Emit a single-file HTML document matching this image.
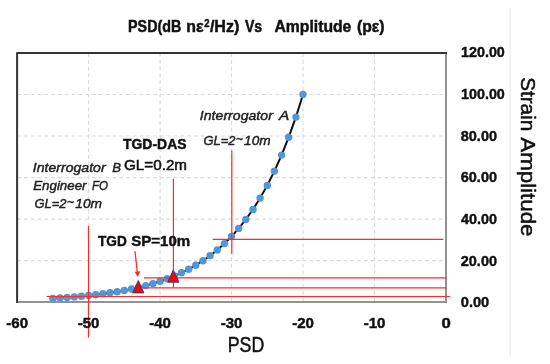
<!DOCTYPE html>
<html><head><meta charset="utf-8"><title>PSD Vs Amplitude</title>
<style>
html,body{margin:0;padding:0;background:#fff;}
body{width:550px;height:364px;overflow:hidden;}
svg{display:block;}
text{font-family:"Liberation Sans",sans-serif;fill:#111;}
.b{font-weight:bold;stroke:#111;stroke-width:0.45px;}
.i{font-style:italic;fill:#222;stroke:#222;stroke-width:0.45px;}
.r{stroke:#111;stroke-width:0.5px;}
</style></head><body>
<svg width="550" height="364" viewBox="0 0 550 364">
<rect width="550" height="364" fill="#fff"/>
<line x1="510.2" y1="8" x2="510.2" y2="356.5" stroke="#efefef" stroke-width="1.6"/>

<g stroke="#dcdcdc" stroke-width="1.2" stroke-dasharray="3.9 2.9" fill="none">
<line x1="88.6" y1="53.0" x2="88.6" y2="302.1"/>
<line x1="160.1" y1="53.0" x2="160.1" y2="302.1"/>
<line x1="231.5" y1="53.0" x2="231.5" y2="302.1"/>
<line x1="303.0" y1="53.0" x2="303.0" y2="302.1"/>
<line x1="374.5" y1="53.0" x2="374.5" y2="302.1"/>
<line x1="17.1" y1="260.6" x2="446.0" y2="260.6"/>
<line x1="17.1" y1="219.1" x2="446.0" y2="219.1"/>
<line x1="17.1" y1="177.6" x2="446.0" y2="177.6"/>
<line x1="17.1" y1="136.0" x2="446.0" y2="136.0"/>
<line x1="17.1" y1="94.5" x2="446.0" y2="94.5"/>
</g>
<path d="M446.0 53.0 V302.1 H17.1" stroke="#939393" stroke-width="2" fill="none" stroke-linejoin="miter"/>
<path d="M17.1 303.1 V53.0 H447.0" stroke="#333" stroke-width="2" fill="none" stroke-linejoin="round"/>
<path d="M52.8 298.4 L60.0 298.0 L67.1 297.5 L74.3 296.9 L81.4 296.2 L88.6 295.5 L95.7 294.7 L102.9 293.8 L110.0 292.8 L117.2 291.7 L124.3 290.4 L131.5 289.0 L138.6 287.4 L145.8 285.6 L152.9 283.6 L160.1 281.3 L167.2 278.8 L174.4 276.0 L181.5 272.8 L188.7 269.2 L195.8 265.2 L203.0 260.7 L210.1 255.6 L217.3 250.0 L224.4 243.6 L231.5 236.5 L238.7 228.4 L245.8 219.5 L253.0 209.4 L260.1 198.1 L267.3 185.4 L274.4 171.1 L281.6 155.1 L288.7 137.2 L295.9 117.1 L303.0 94.5" stroke="#111" stroke-width="2" fill="none"/>
<g fill="#5296d8">
<circle cx="52.8" cy="298.4" r="3.7"/>
<circle cx="60.0" cy="298.0" r="3.7"/>
<circle cx="67.1" cy="297.5" r="3.7"/>
<circle cx="74.3" cy="296.9" r="3.7"/>
<circle cx="81.4" cy="296.2" r="3.7"/>
<circle cx="88.6" cy="295.5" r="3.7"/>
<circle cx="95.7" cy="294.7" r="3.7"/>
<circle cx="102.9" cy="293.8" r="3.7"/>
<circle cx="110.0" cy="292.8" r="3.7"/>
<circle cx="117.2" cy="291.7" r="3.7"/>
<circle cx="124.3" cy="290.4" r="3.7"/>
<circle cx="131.5" cy="289.0" r="3.7"/>
<circle cx="138.6" cy="287.4" r="3.7"/>
<circle cx="145.8" cy="285.6" r="3.7"/>
<circle cx="152.9" cy="283.6" r="3.7"/>
<circle cx="160.1" cy="281.3" r="3.7"/>
<circle cx="167.2" cy="278.8" r="3.7"/>
<circle cx="174.4" cy="276.0" r="3.7"/>
<circle cx="181.5" cy="272.8" r="3.7"/>
<circle cx="188.7" cy="269.2" r="3.7"/>
<circle cx="195.8" cy="265.2" r="3.7"/>
<circle cx="203.0" cy="260.7" r="3.7"/>
<circle cx="210.1" cy="255.6" r="3.7"/>
<circle cx="217.3" cy="250.0" r="3.7"/>
<circle cx="224.4" cy="243.6" r="3.7"/>
<circle cx="231.5" cy="236.5" r="3.7"/>
<circle cx="238.7" cy="228.4" r="3.7"/>
<circle cx="245.8" cy="219.5" r="3.7"/>
<circle cx="253.0" cy="209.4" r="3.7"/>
<circle cx="260.1" cy="198.1" r="3.7"/>
<circle cx="267.3" cy="185.4" r="3.7"/>
<circle cx="274.4" cy="171.1" r="3.7"/>
<circle cx="281.6" cy="155.1" r="3.7"/>
<circle cx="288.7" cy="137.2" r="3.7"/>
<circle cx="295.9" cy="117.1" r="3.7"/>
<circle cx="303.0" cy="94.5" r="3.7"/>
</g>
<g stroke="#ff2a2a" stroke-width="1.2" fill="none">
<line x1="88.5" y1="226" x2="88.5" y2="337.7"/>
<line x1="173.4" y1="178.8" x2="173.4" y2="288"/>
<line x1="231.8" y1="150.5" x2="231.8" y2="254"/>
<line x1="212.7" y1="239.4" x2="443.3" y2="239.4"/>
<line x1="144" y1="277.9" x2="446.6" y2="277.9"/>
<line x1="142.4" y1="287.8" x2="446.6" y2="287.8"/>
<line x1="46.5" y1="296.5" x2="450.2" y2="296.5"/>
</g>
<path d="M138.3 280.5 L143.9 292.9 L132.70000000000002 292.9 Z" fill="#ff0000" stroke="#2f3f8f" stroke-width="1"/>
<path d="M173.3 270.0 L178.9 282.2 L167.70000000000002 282.2 Z" fill="#ff0000" stroke="#2f3f8f" stroke-width="1"/>
<line x1="135" y1="251.2" x2="137.3" y2="272.5" stroke="#ff2a2a" stroke-width="1.3"/>
<path d="M137.7 277 L134.6 271.8 L140.3 271.2 Z" fill="#ff2a2a"/>
<text x="128.05" y="31.5" font-size="15.7" textLength="53.27" lengthAdjust="spacingAndGlyphs" class="b">PSD(dB</text>
<text x="186.25" y="31.5" font-size="15.7" textLength="17.29" lengthAdjust="spacingAndGlyphs" class="b">nε</text>
<text x="204.3" y="27.2" font-size="11.0" textLength="5.26" lengthAdjust="spacingAndGlyphs" class="b">2</text>
<text x="209.9" y="31.5" font-size="15.7" textLength="29.51" lengthAdjust="spacingAndGlyphs" class="b">/Hz)</text>
<text x="244.95" y="31.5" font-size="15.7" textLength="17.25" lengthAdjust="spacingAndGlyphs" class="b">Vs</text>
<text x="274.4" y="31.5" font-size="15.7" textLength="77.0" lengthAdjust="spacingAndGlyphs" class="b">Amplitude</text>
<text x="357.0" y="31.5" font-size="15.7" textLength="27.54" lengthAdjust="spacingAndGlyphs" class="b">(pε)</text>
<text x="460.75" y="307.2" font-size="14.7" textLength="28.51" lengthAdjust="spacingAndGlyphs" class="b">0.00</text>
<text x="460.75" y="265.6" font-size="14.7" textLength="36.26" lengthAdjust="spacingAndGlyphs" class="b">20.00</text>
<text x="461.0" y="223.9" font-size="14.7" textLength="36.0" lengthAdjust="spacingAndGlyphs" class="b">40.00</text>
<text x="460.75" y="182.2" font-size="14.7" textLength="36.26" lengthAdjust="spacingAndGlyphs" class="b">60.00</text>
<text x="460.75" y="140.6" font-size="14.7" textLength="36.26" lengthAdjust="spacingAndGlyphs" class="b">80.00</text>
<text x="461.05" y="98.9" font-size="14.7" textLength="43.78" lengthAdjust="spacingAndGlyphs" class="b">100.00</text>
<text x="461.05" y="57.3" font-size="14.7" textLength="43.78" lengthAdjust="spacingAndGlyphs" class="b">120.00</text>
<text x="6.25" y="327.7" font-size="14.4" textLength="21.77" lengthAdjust="spacingAndGlyphs" class="b">-60</text>
<text x="77.73" y="327.7" font-size="14.4" textLength="21.77" lengthAdjust="spacingAndGlyphs" class="b">-50</text>
<text x="149.22" y="327.7" font-size="14.4" textLength="21.77" lengthAdjust="spacingAndGlyphs" class="b">-40</text>
<text x="220.7" y="327.7" font-size="14.4" textLength="21.77" lengthAdjust="spacingAndGlyphs" class="b">-30</text>
<text x="292.18" y="327.7" font-size="14.4" textLength="21.77" lengthAdjust="spacingAndGlyphs" class="b">-20</text>
<text x="363.67" y="327.7" font-size="14.4" textLength="21.77" lengthAdjust="spacingAndGlyphs" class="b">-10</text>
<text x="441.5" y="327.7" font-size="14.4" textLength="9.32" lengthAdjust="spacingAndGlyphs" class="b">0</text>
<text x="227.75" y="352.4" font-size="21.4" textLength="36.59" lengthAdjust="spacingAndGlyphs" class="r">PSD</text>
<text x="123.0" y="148.9" font-size="14.6" textLength="63.5" lengthAdjust="spacingAndGlyphs" class="b">TGD-DAS</text>
<text x="124.0" y="170.0" font-size="14.6" textLength="63.03" lengthAdjust="spacingAndGlyphs" class="r">GL=0.2m</text>
<text x="98.0" y="245.6" font-size="14.6" textLength="28.76" lengthAdjust="spacingAndGlyphs" class="b">TGD</text>
<text x="131.15" y="245.6" font-size="14.6" textLength="59.02" lengthAdjust="spacingAndGlyphs" class="b">SP=10m</text>
<text x="32.85" y="171.9" font-size="13.6" textLength="72.75" lengthAdjust="spacingAndGlyphs" class="i">Interrogator</text>
<text x="112.25" y="171.9" font-size="13.6" textLength="8.79" lengthAdjust="spacingAndGlyphs" class="i">B</text>
<text x="33.25" y="190.1" font-size="13.6" textLength="53.25" lengthAdjust="spacingAndGlyphs" class="i">Engineer</text>
<text x="92.0" y="190.1" font-size="13.6" textLength="16.0" lengthAdjust="spacingAndGlyphs" class="i">FO</text>
<text x="34.4" y="208.3" font-size="13.6" textLength="32.01" lengthAdjust="spacingAndGlyphs" class="i">GL=2</text>
<text x="67.1" y="206.0" font-size="13.6" textLength="6.82" lengthAdjust="spacingAndGlyphs" class="i">~</text>
<text x="75.3" y="208.3" font-size="13.6" textLength="26.76" lengthAdjust="spacingAndGlyphs" class="i">10m</text>
<text x="199.85" y="120.4" font-size="13.6" textLength="73.0" lengthAdjust="spacingAndGlyphs" class="i">Interrogator</text>
<text x="278.95" y="120.4" font-size="13.6" textLength="10.29" lengthAdjust="spacingAndGlyphs" class="i">A</text>
<text x="203.6" y="144.9" font-size="13.6" textLength="31.76" lengthAdjust="spacingAndGlyphs" class="i">GL=2</text>
<text x="236.0" y="142.6" font-size="13.6" textLength="6.83" lengthAdjust="spacingAndGlyphs" class="i">~</text>
<text x="244.1" y="144.9" font-size="13.6" textLength="26.51" lengthAdjust="spacingAndGlyphs" class="i">10m</text>
<text x="77.15" y="0" font-size="20.5" textLength="54.06" lengthAdjust="spacingAndGlyphs" class="r" transform="translate(521.3 0) rotate(90)">Strain</text>
<text x="137.25" y="0" font-size="20.5" textLength="99.25" lengthAdjust="spacingAndGlyphs" class="r" transform="translate(521.3 0) rotate(90)">Amplitude</text>
</svg></body></html>
